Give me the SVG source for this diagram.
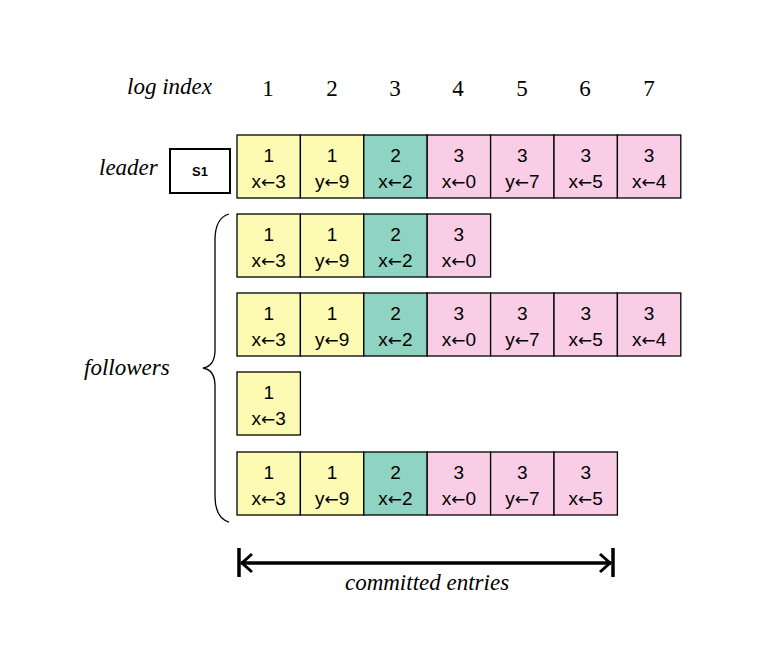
<svg xmlns="http://www.w3.org/2000/svg" width="760" height="649" viewBox="0 0 760 649">
<style>
.y{fill:#fdfbb3;stroke:#000;stroke-width:1.3}.g{fill:#8fd4c3;stroke:#000;stroke-width:1.3}.p{fill:#f9cde6;stroke:#000;stroke-width:1.3}
.t{font-family:"Liberation Sans",Arial,sans-serif;font-size:19px;text-anchor:middle;fill:#000}
.a{font-family:"DejaVu Sans",sans-serif;font-size:17px}
.s{font-family:"Liberation Serif","Times New Roman",serif;font-size:23px;fill:#000}
.i{font-style:italic}
</style>
<rect width="760" height="649" fill="#fff"/>
<g id="header">
<text class="s i" x="127" y="94">log index</text>
<g class="s" text-anchor="middle">
<text x="268" y="96">1</text><text x="332" y="96">2</text><text x="395" y="96">3</text><text x="458" y="96">4</text><text x="522" y="96">5</text><text x="585" y="96">6</text><text x="649" y="96">7</text>
</g>
</g>
<g id="leader">
<text class="s i" x="99" y="175">leader</text>
<rect x="170" y="149" width="60" height="44" fill="#fff" stroke="#000" stroke-width="2"/>
<text x="200" y="176" font-family="Liberation Sans,Arial,sans-serif" font-weight="bold" font-size="13" text-anchor="middle">S1</text>
</g>
<defs>
<g id="e1"><rect class="y" width="63.4" height="63"/><text class="t" x="31.7" y="27">1</text><text class="t" x="31.7" y="53">x<tspan class="a">←</tspan>3</text></g>
<g id="e2"><rect class="y" width="63.4" height="63"/><text class="t" x="31.7" y="27">1</text><text class="t" x="31.7" y="53">y<tspan class="a">←</tspan>9</text></g>
<g id="e3"><rect class="g" width="63.4" height="63"/><text class="t" x="31.7" y="27">2</text><text class="t" x="31.7" y="53">x<tspan class="a">←</tspan>2</text></g>
<g id="e4"><rect class="p" width="63.4" height="63"/><text class="t" x="31.7" y="27">3</text><text class="t" x="31.7" y="53">x<tspan class="a">←</tspan>0</text></g>
<g id="e5"><rect class="p" width="63.4" height="63"/><text class="t" x="31.7" y="27">3</text><text class="t" x="31.7" y="53">y<tspan class="a">←</tspan>7</text></g>
<g id="e6"><rect class="p" width="63.4" height="63"/><text class="t" x="31.7" y="27">3</text><text class="t" x="31.7" y="53">x<tspan class="a">←</tspan>5</text></g>
<g id="e7"><rect class="p" width="63.4" height="63"/><text class="t" x="31.7" y="27">3</text><text class="t" x="31.7" y="53">x<tspan class="a">←</tspan>4</text></g>
</defs>
<g id="leaderLog" transform="translate(237,135)">
<use href="#e1"/><use href="#e2" x="63.4"/><use href="#e3" x="126.8"/><use href="#e4" x="190.2"/><use href="#e5" x="253.6"/><use href="#e6" x="317"/><use href="#e7" x="380.4"/>
</g>
<g id="follower1" transform="translate(237,214)">
<use href="#e1"/><use href="#e2" x="63.4"/><use href="#e3" x="126.8"/><use href="#e4" x="190.2"/>
</g>
<g id="follower2" transform="translate(237,293)">
<use href="#e1"/><use href="#e2" x="63.4"/><use href="#e3" x="126.8"/><use href="#e4" x="190.2"/><use href="#e5" x="253.6"/><use href="#e6" x="317"/><use href="#e7" x="380.4"/>
</g>
<g id="follower3" transform="translate(237,372)">
<use href="#e1"/>
</g>
<g id="follower4" transform="translate(237,452)">
<use href="#e1"/><use href="#e2" x="63.4"/><use href="#e3" x="126.8"/><use href="#e4" x="190.2"/><use href="#e5" x="253.6"/><use href="#e6" x="317"/>
</g>
<g id="followers">
<text class="s i" x="84" y="375">followers</text>
<path d="M229,214 Q215,218 215,240 L215,350 Q215,366 203,368 Q215,370 215,386 L215,496 Q215,518 229,522" fill="none" stroke="#000" stroke-width="1.3"/>
</g>
<g id="connectors" stroke="#000" stroke-width="3.5" fill="none">
<line x1="239" y1="548" x2="239" y2="577"/>
<line x1="613" y1="548" x2="613" y2="577"/>
<line x1="241" y1="563" x2="611" y2="563"/>
<polyline points="252,554 242,563 252,572" stroke-width="3"/>
<polyline points="600,554 610,563 600,572" stroke-width="3"/>
</g>
<text class="s i" x="427" y="590" text-anchor="middle" font-size="21">committed entries</text>
</svg>
